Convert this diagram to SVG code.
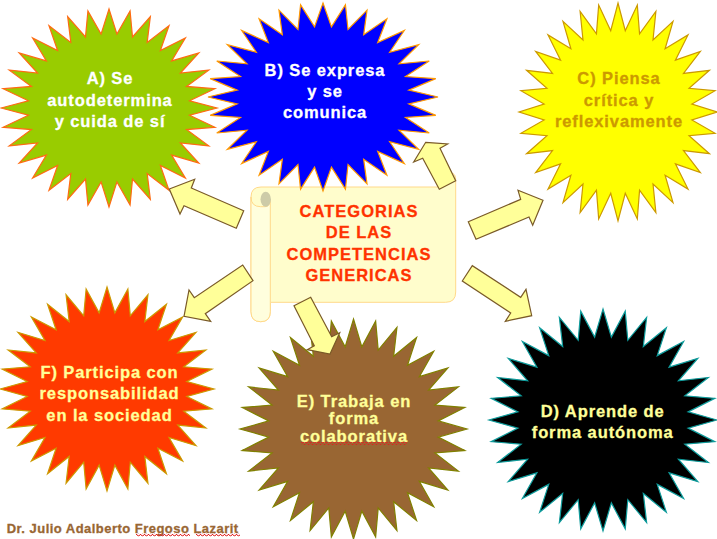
<svg xmlns="http://www.w3.org/2000/svg" width="717" height="539" viewBox="0 0 717 539">
<style>
text{font-family:"Liberation Sans",Arial,sans-serif;font-weight:700;font-size:16.5px;letter-spacing:.9px;text-anchor:middle;stroke-width:.3px}
.star{vector-effect:non-scaling-stroke;stroke-width:1.2px}
.arrow{fill:#FFFF99;stroke:#7A5A28;stroke-width:1.2;stroke-linejoin:miter}
.w{fill:#FFFFFF;stroke:#FFFFFF}.y{fill:#FFFF99;stroke:#FFFF99}.r{fill:#FF3300;stroke:#FF3300;letter-spacing:1px}.o{fill:#CC9900;stroke:#CC9900}
.a{fill:#99CC00;stroke:#FF6A13}.b{fill:#0000FF;stroke:#FF9900}.c{fill:#FFFF00;stroke:#CC9900}.d{fill:#000000;stroke:#0E9C9C}.e{fill:#996633;stroke:#808000}.f{fill:#FF3A00;stroke:#CC9900}
</style>
<defs>
<polygon id="s32" class="star" points="0,-1 .0735,-.7464 .1951,-.9808 .2177,-.7177 .3827,-.9239 .3536,-.6614 .5556,-.8315 .4758,-.5798 .7071,-.7071 .5798,-.4758 .8315,-.5556 .6614,-.3536 .9239,-.3827 .7177,-.2177 .9808,-.1951 .7464,-.0735 1,0 .7464,.0735 .9808,.1951 .7177,.2177 .9239,.3827 .6614,.3536 .8315,.5556 .5798,.4758 .7071,.7071 .4758,.5798 .5556,.8315 .3536,.6614 .3827,.9239 .2177,.7177 .1951,.9808 .0735,.7464 0,1 -.0735,.7464 -.1951,.9808 -.2177,.7177 -.3827,.9239 -.3536,.6614 -.5556,.8315 -.4758,.5798 -.7071,.7071 -.5798,.4758 -.8315,.5556 -.6614,.3536 -.9239,.3827 -.7177,.2177 -.9808,.1951 -.7464,.0735 -1,0 -.7464,-.0735 -.9808,-.1951 -.7177,-.2177 -.9239,-.3827 -.6614,-.3536 -.8315,-.5556 -.5798,-.4758 -.7071,-.7071 -.4758,-.5798 -.5556,-.8315 -.3536,-.6614 -.3827,-.9239 -.2177,-.7177 -.1951,-.9808 -.0735,-.7464"/>
<pattern id="wavy" width="4" height="3" patternUnits="userSpaceOnUse"><path d="M0,.5 L1,.5 L2,2 L3,2 L4,.5" fill="none" stroke="#E02020" stroke-width="1"/></pattern>
</defs>
<rect width="717" height="539" fill="#FFFFFF"/>
<g id="center">
<path d="M251,197 Q251,187 261,187 H442 Q446,187 446,181 Q446,173 451,173 Q456,173 455.7,181 V292 Q455.7,302.3 445.7,302.3 H270.3 V311.7 Q270.3,321.7 260.7,321.7 Q251,321.7 251,311.7 Z" fill="#FFFDCC" stroke="#FFD98A" stroke-width="1"/>
<path d="M251,197 Q251,206.7 260.7,206.7 H265 Q270.3,206.7 270.3,199 V302.3 V311.7 Q270.3,321.7 260.7,321.7 Q251,321.7 251,311.7 Z" fill="#FFFEDD" stroke="#FFD98A" stroke-width="1"/>
<ellipse cx="265.7" cy="199.2" rx="5.2" ry="7.5" fill="#CDCBA8"/>
<text x="359" y="217.3" class="r">CATEGORIAS</text>
<text x="359" y="238.3" class="r">DE LAS</text>
<text x="359" y="260" class="r">COMPETENCIAS</text>
<text x="359" y="281" class="r">GENERICAS</text>
</g>
<g id="node-a">
<use href="#s32" class="a" transform="translate(109,108) scale(108,99)"/>
<text x="110" y="84" class="w">A) Se</text>
<text x="110" y="105.7" class="w">autodetermina</text>
<text x="110" y="126.7" class="w">y cuida de sí</text>
</g>
<g id="node-b">
<use href="#s32" class="b" transform="translate(323,97) scale(115,94)"/>
<text x="325" y="76" class="w">B) Se expresa</text>
<text x="325" y="97" class="w">y se</text>
<text x="325" y="118" class="w">comunica</text>
</g>
<g id="node-c">
<use href="#s32" class="c" transform="translate(618,112) scale(99,109)"/>
<text x="619" y="84" class="o">C) Piensa</text>
<text x="619" y="106" class="o">crítica y</text>
<text x="619" y="126.7" class="o">reflexivamente</text>
</g>
<g id="node-d">
<use href="#s32" class="d" transform="translate(603,420) scale(114,111)"/>
<text x="602.7" y="417.3" class="y">D) Aprende de</text>
<text x="602.7" y="438.3" class="y">forma autónoma</text>
</g>
<g id="node-e">
<use href="#s32" class="e" transform="translate(353.5,429) scale(113.5,110)"/>
<text x="354" y="406.7" class="y">E) Trabaja en</text>
<text x="354" y="424" class="y">forma</text>
<text x="354" y="442" class="y">colaborativa</text>
<rect x="301" y="442" width="106" height="3" fill="url(#wavy)"/>
</g>
<g id="node-f">
<use href="#s32" class="f" transform="translate(107,389) scale(107,102)"/>
<text x="109.5" y="377.7" class="y">F) Participa con</text>
<text x="109.5" y="399.3" class="y">responsabilidad</text>
<text x="109.5" y="420.7" class="y">en la sociedad</text>
</g>
<g id="connectors">
<polygon class="arrow" points="425.7,142.3 447.7,144 440,148.3 455.7,180.7 439.3,189.3 422.7,158.3 413.7,162"/>
<polygon class="arrow" points="468.3,221.7 520.7,199.3 518,190.3 543,200.3 532.7,225.3 529,217 476,239.3"/>
<polygon class="arrow" points="169.3,189 194.7,179.3 191.3,188 243.7,210.7 236.3,228.3 184,205.7 180,214"/>
<polygon class="arrow" points="184,316.3 189,290 194.3,297.7 242.7,265 253,280.7 205.3,313.7 210.7,321.3"/>
<polygon class="arrow" points="294,305.7 310.7,297.3 331.7,336.7 339.7,332.7 330,354 307.3,349.7 314.3,345.7"/>
<polygon class="arrow" points="462.3,281 472.3,265.7 520.7,297.3 526,289.3 531.7,315.7 505.3,321.3 510.7,313"/>
</g>
<g id="credit">
<text x="6.7" y="532.7" style="fill:#996633;stroke:#996633;font-size:13px;letter-spacing:.47px;text-anchor:start">Dr. Julio Adalberto Fregoso Lazarit</text>
<rect x="136" y="533.5" width="54" height="3" fill="url(#wavy)"/>
<rect x="196" y="533.5" width="44" height="3" fill="url(#wavy)"/>
</g>
</svg>
